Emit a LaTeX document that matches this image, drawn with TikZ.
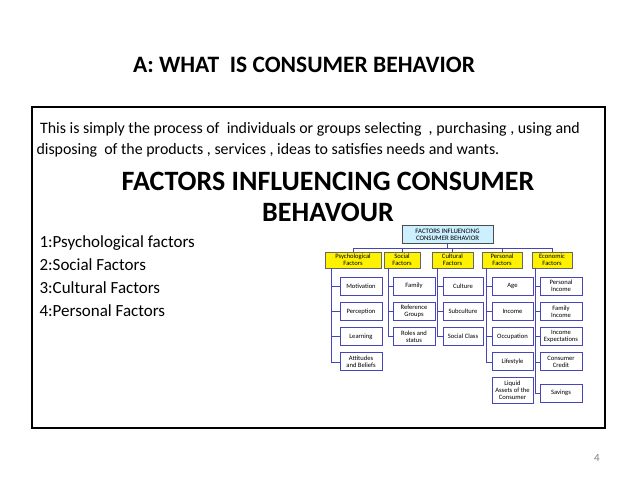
\documentclass[tikz,border=0pt]{standalone}
\usepackage{fontspec}
\setmainfont{Carlito}
\begin{document}
\begin{tikzpicture}[x=1pt,y=-1pt,
 cat/.style={draw=black!60,fill=yellow,line width=0.5pt,inner sep=0pt,align=center,font=\fontsize{6.6}{7}\selectfont},
 sub/.style={draw=blue!45!gray,fill=white,line width=0.8pt,inner sep=0pt,align=center,font=\fontsize{6.6}{7}\selectfont},
 ln/.style={draw=blue!45!gray,line width=0.7pt}]
\useasboundingbox (0,0) rectangle (638,478);
\node[font=\bfseries\fontsize{23.5}{26}\selectfont] (title) at (304,65) {A: WHAT\ \ IS CONSUMER BEHAVIOR};
\draw[line width=2.5pt] (32,107) rectangle (605,428);
\node[anchor=west,align=left,font=\fontsize{15.9}{21}\selectfont] (intro) at (33,140) {\ This is simply the process of\ \ individuals or groups selecting\ \ , purchasing , using and\\disposing\ \ of the products , services , ideas to satisfies needs and wants.};
\node[align=center,font=\bfseries\fontsize{28}{31}\selectfont] (head) at (328,197) {FACTORS INFLUENCING CONSUMER\\BEHAVOUR};
\node[anchor=west,align=left,font=\fontsize{17}{23}\selectfont] (list) at (36,276) {1:Psychological factors\\2:Social Factors\\3:Cultural Factors\\4:Personal Factors};
\node[text=gray,font=\fontsize{11}{12}\selectfont] (pg) at (597,458) {4};
% diagram
\node[draw=black!70,fill=blue!30!cyan!20,line width=1pt,minimum width=91pt,minimum height=18pt,inner sep=0pt,align=center,font=\fontsize{6.8}{7.3}\selectfont] (top) at (447.5,235) {FACTORS INFLUENCING\\CONSUMER BEHAVIOR};
\coordinate (bar) at (447.5,248);
\foreach \n/\xa/\xb/\t/\v in {c1/325/381/{Psychological\\Factors}/331, c2/384/420/{Social\\Factors}/388, c3/432/473/{Cultural\\Factors}/437, c4/482/522/{Personal\\Factors}/486, c5/532/572/{Economic\\Factors}/535}{
 \node[cat,minimum width={\xb-\xa},minimum height=16pt] (\n) at ({(\xa+\xb)/2},260) {\t};
 \draw[ln] (top.south) -- (bar) -| (\n.north);
 \coordinate (\n v) at (\v,268);
}
\foreach \c/\v/\xa/\xb/\lst in {
 c1/331/340/382/{1/Motivation,2/Perception,3/Learning,4/{Attitudes\\and Beliefs}},
 c2/388/393/435/{1/Family,2/{Reference\\Groups},3/{Roles and\\status}},
 c3/437/443/483/{1/Culture,2/Subculture,3/Social Class},
 c4/486/492/533/{1/Age,2/Income,3/Occupation,4/Lifestyle},
 c5/535/540/582/{1/{Personal\\Income},2/{Family\\Income},3/{Income\\Expectations},4/{Consumer\\Credit},5/Savings}}{
 \foreach \i/\t in \lst {
  \pgfmathsetmacro\yy{286+25.3*(\i-1)+(\i==5?6:0)}
  \node[sub,minimum width={\xb-\xa},minimum height=18pt] (\c s\i) at ({(\xa+\xb)/2},\yy) {\t};
  \draw[ln] (\c v) |- (\c s\i.west);
 }
}
\node[sub,minimum width=41pt,minimum height=26pt] (c4s5) at (512.5,390) {Liquid\\Assets of the\\Consumer};
\end{tikzpicture}
\end{document}
